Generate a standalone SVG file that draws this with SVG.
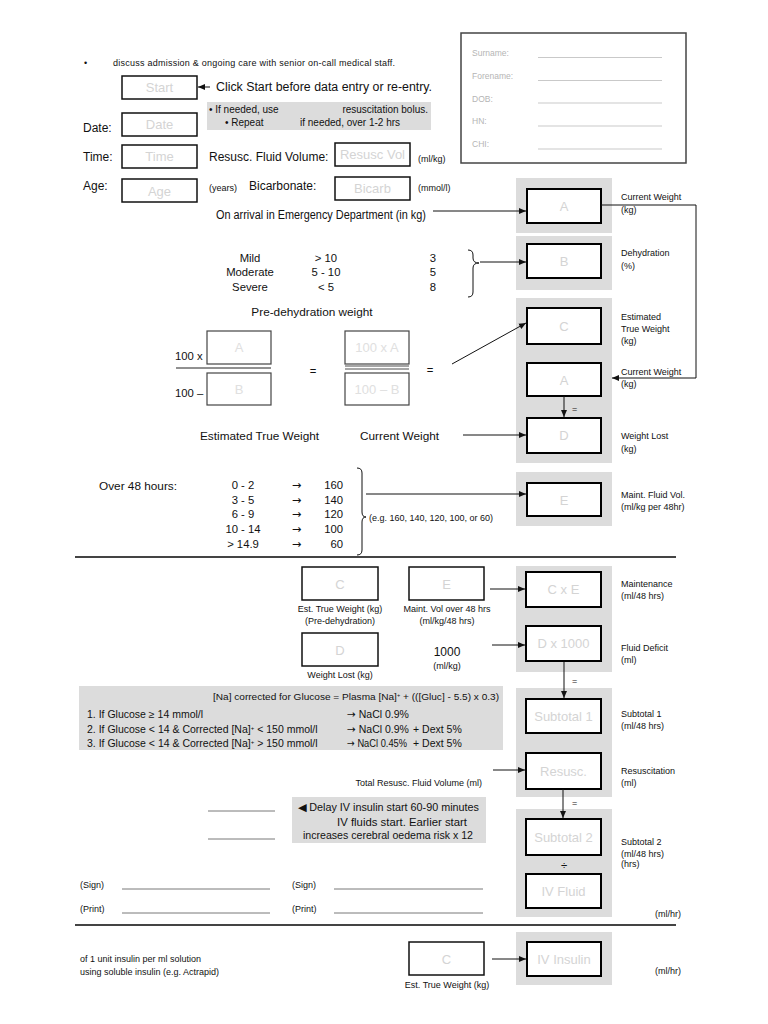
<svg xmlns="http://www.w3.org/2000/svg" width="768" height="1024" viewBox="0 0 768 1024">
<style>
text{font-family:"Liberation Sans",Arial,sans-serif;fill:#111}
.s{font-size:9px}
.m{font-size:11.3px}
.l{font-size:12px}
.n{font-size:10.5px}
.ar{font-family:"DejaVu Sans",sans-serif}
.ph{font-size:13px;fill:#d4d4d4;text-anchor:middle}
.ph2{font-size:13px;fill:#e0e0e0;text-anchor:middle}
.c{text-anchor:middle}
.e{text-anchor:end}
.bx{fill:#fff;stroke:#111;stroke-width:1.5}
.rb{fill:#fff;stroke:#000;stroke-width:2}
.fb{fill:#fff;stroke:#444;stroke-width:1.2}
.pn{fill:#dcdcdc}
.ln{stroke:#111;stroke-width:1;fill:none}
.ul{stroke:#555;stroke-width:0.8}
.gl{stroke:#bbb;stroke-width:0.8}
.lg{font-size:8.5px;fill:#b5b5b5}
.rule{stroke:#444;stroke-width:2}
</style>
<defs>
<marker id="ah" markerWidth="8" markerHeight="8" refX="7" refY="4" orient="auto" markerUnits="userSpaceOnUse">
<path d="M0,1 L7,4 L0,7 z" fill="#111"/>
</marker>
</defs>
<rect width="768" height="1024" fill="#fff"/>

<!-- header -->
<text x="84" y="66" class="s">•</text>
<text x="113" y="66" class="s" textLength="282" lengthAdjust="spacing">discuss admission &amp; ongoing care with senior on-call medical staff.</text>

<g id="patient-box">
<rect x="461" y="33" width="225" height="130" fill="#fff" stroke="#444" stroke-width="1.5"/>
<text x="472" y="56" class="lg">Surname:</text>
<text x="472" y="79" class="lg">Forename:</text>
<text x="472" y="102" class="lg">DOB:</text>
<text x="472" y="124" class="lg">HN:</text>
<text x="472" y="147" class="lg">CHI:</text>
<line x1="538" y1="57.5" x2="662" y2="57.5" class="gl"/>
<line x1="538" y1="80.5" x2="662" y2="80.5" class="gl"/>
<line x1="538" y1="103" x2="662" y2="103" class="gl"/>
<line x1="538" y1="126" x2="662" y2="126" class="gl"/>
<line x1="538" y1="149" x2="662" y2="149" class="gl"/>
</g>

<g id="start">
<rect x="122" y="76" width="75" height="23" class="bx"/>
<text x="159.5" y="92" class="ph">Start</text>
</g>
<text x="216" y="91" class="l" textLength="216" lengthAdjust="spacingAndGlyphs">Click Start before data entry or re-entry.</text>

<g id="resus-note">
<rect x="207" y="102" width="224" height="28" fill="#dcdcdc"/>
<text x="209" y="113" style="font-size:10px">• If needed, use</text>
<text x="428" y="113" class="e" style="font-size:10px">resuscitation bolus.</text>
<text x="225" y="126" style="font-size:10px">• Repeat</text>
<text x="300" y="126" style="font-size:10px">if needed, over 1-2 hrs</text>
</g>

<text x="83" y="132" class="l">Date:</text>
<g id="date"><rect x="122" y="113" width="75" height="23" class="bx"/><text x="159.5" y="129" class="ph">Date</text></g>

<text x="83" y="161" class="l">Time:</text>
<g id="time"><rect x="122" y="145" width="75" height="23" class="bx"/><text x="159.5" y="161" class="ph">Time</text></g>
<text x="209" y="161" class="l">Resusc. Fluid Volume:</text>
<g id="resusc-vol"><rect x="335" y="143" width="75" height="23" class="bx"/><text x="372.5" y="159" class="ph">Resusc Vol</text></g>
<text x="418" y="162" class="s">(ml/kg)</text>

<text x="83" y="190" class="l">Age:</text>
<g id="age"><rect x="122" y="179" width="75" height="23" class="bx"/><text x="159.5" y="196" class="ph">Age</text></g>
<text x="209" y="191" class="s">(years)</text>
<text x="249" y="190" class="l">Bicarbonate:</text>
<g id="bicarb"><rect x="335" y="177" width="75" height="23" class="bx"/><text x="372.5" y="193" class="ph">Bicarb</text></g>
<text x="418" y="191" class="s">(mmol/l)</text>

<text x="216" y="219" class="l" textLength="210" lengthAdjust="spacingAndGlyphs">On arrival in Emergency Department (in kg)</text>

<!-- dehydration table -->
<g id="dehydration-table">
<text x="250" y="262" class="c m">Mild</text>
<text x="326" y="262" class="c m">&gt; 10</text>
<text x="433" y="262" class="c m">3</text>
<text x="250" y="276" class="c m">Moderate</text>
<text x="326" y="276" class="c m">5 - 10</text>
<text x="433" y="276" class="c m">5</text>
<text x="250" y="291" class="c m">Severe</text>
<text x="326" y="291" class="c m">&lt; 5</text>
<text x="433" y="291" class="c m">8</text>
</g>

<text x="312" y="316" class="c m" style="font-size:11.8px">Pre-dehydration weight</text>

<!-- formula -->
<g id="formula">
<text x="175" y="360" class="m">100 x</text>
<rect x="207" y="331" width="64" height="33" class="fb"/>
<text x="239" y="352" class="ph2">A</text>
<line x1="176" y1="368" x2="271" y2="368" stroke="#222" stroke-width="1"/>
<rect x="207" y="373" width="64" height="32" class="fb"/>
<text x="239" y="394" class="ph2">B</text>
<text x="175" y="397" class="m">100 –</text>
<text x="313" y="375" class="c m">=</text>
<rect x="345" y="331" width="64" height="33" class="fb"/>
<text x="377" y="352" class="ph2">100 x A</text>
<line x1="345" y1="366" x2="409" y2="366" stroke="#222" stroke-width="0.8"/>
<line x1="345" y1="369" x2="409" y2="369" stroke="#222" stroke-width="0.8"/>
<rect x="345" y="373" width="64" height="32" class="fb"/>
<text x="377" y="394" class="ph2">100 – B</text>
<text x="430" y="374" class="c m">=</text>
</g>

<text x="200" y="440" class="m" style="font-size:11.8px">Estimated True Weight</text>
<text x="360" y="440" class="m" style="font-size:11.8px">Current Weight</text>

<!-- over 48 hours -->
<g id="maint-table">
<text x="99" y="490" class="m" style="font-size:11.8px">Over 48 hours:</text>
<text x="243" y="489" class="c m">0 - 2</text><text x="292" y="489" class="m ar">→</text><text x="343" y="489" class="e m">160</text>
<text x="243" y="504" class="c m">3 - 5</text><text x="292" y="504" class="m ar">→</text><text x="343" y="504" class="e m">140</text>
<text x="243" y="518" class="c m">6 - 9</text><text x="292" y="518" class="m ar">→</text><text x="343" y="518" class="e m">120</text>
<text x="243" y="533" class="c m">10 - 14</text><text x="292" y="533" class="m ar">→</text><text x="343" y="533" class="e m">100</text>
<text x="243" y="548" class="c m">&gt; 14.9</text><text x="292" y="548" class="m ar">→</text><text x="343" y="548" class="e m">60</text>
<text x="369" y="521" class="s">(e.g. 160, 140, 120, 100, or 60)</text>
</g>

<line x1="75" y1="557" x2="676" y2="557" class="rule"/>

<!-- right column panels -->
<g id="panels">
<rect x="516" y="178" width="96" height="55" class="pn"/>
<rect x="516" y="236" width="96" height="54" class="pn"/>
<rect x="516" y="298" width="96" height="165" class="pn"/>
<rect x="516" y="472" width="96" height="54" class="pn"/>
<rect x="516" y="566" width="96" height="106" class="pn"/>
<rect x="516" y="688" width="96" height="57" class="pn"/>
<rect x="516" y="743" width="96" height="54" class="pn"/>
<rect x="516" y="809" width="96" height="108" class="pn"/>
<rect x="516" y="932" width="96" height="53" class="pn"/>
</g>

<g id="node-A"><rect x="527" y="189" width="74" height="34" class="rb"/><text x="564" y="211" class="ph">A</text></g>
<text x="621" y="200" class="s">Current Weight</text><text x="621" y="213" class="s">(kg)</text>
<g id="node-B"><rect x="527" y="244" width="74" height="34" class="rb"/><text x="564" y="266" class="ph">B</text></g>
<text x="621" y="256" class="s">Dehydration</text><text x="621" y="269" class="s">(%)</text>
<g id="node-C"><rect x="527" y="308" width="74" height="36" class="rb"/><text x="564" y="331" class="ph">C</text></g>
<text x="621" y="320" class="s">Estimated</text><text x="621" y="332" class="s">True Weight</text><text x="621" y="344" class="s">(kg)</text>
<g id="node-A2"><rect x="527" y="363" width="74" height="33" class="rb"/><text x="564" y="385" class="ph">A</text></g>
<text x="621" y="375" class="s">Current Weight</text><text x="621" y="387" class="s">(kg)</text>
<g id="node-D"><rect x="527" y="418" width="74" height="35" class="rb"/><text x="564" y="440" class="ph">D</text></g>
<text x="621" y="439" class="s">Weight Lost</text><text x="621" y="452" class="s">(kg)</text>
<g id="node-E"><rect x="527" y="483" width="74" height="33" class="rb"/><text x="564" y="505" class="ph">E</text></g>
<text x="621" y="498" class="s">Maint. Fluid Vol.</text><text x="621" y="510" class="s">(ml/kg per 48hr)</text>

<!-- section 2 -->
<g id="s2-C"><rect x="302" y="567" width="76" height="33" class="bx"/><text x="340" y="589" class="ph">C</text></g>
<text x="340" y="612" class="c s">Est. True Weight (kg)</text>
<text x="340" y="624" class="c s">(Pre-dehydration)</text>
<g id="s2-E"><rect x="409" y="567" width="75" height="33" class="bx"/><text x="446.5" y="589" class="ph">E</text></g>
<text x="447" y="612" class="c s">Maint. Vol over 48 hrs</text>
<text x="447" y="624" class="c s">(ml/kg/48 hrs)</text>
<g id="s2-D"><rect x="302" y="633" width="76" height="33" class="bx"/><text x="340" y="655" class="ph">D</text></g>
<text x="340" y="678" class="c s">Weight Lost (kg)</text>
<text x="447" y="656" class="c l">1000</text>
<text x="447" y="669" class="c s">(ml/kg)</text>

<g id="node-CxE"><rect x="526" y="572" width="75" height="35" class="rb"/><text x="563.5" y="594" class="ph">C x E</text></g>
<text x="621" y="587" class="s">Maintenance</text><text x="621" y="599" class="s">(ml/48 hrs)</text>
<g id="node-Dx1000"><rect x="526" y="626" width="75" height="35" class="rb"/><text x="563.5" y="648" class="ph">D x 1000</text></g>
<text x="621" y="651" class="s">Fluid Deficit</text><text x="621" y="663" class="s">(ml)</text>

<g id="node-sub1"><rect x="526" y="699" width="75" height="34" class="rb"/><text x="563.5" y="721" class="ph">Subtotal 1</text></g>
<text x="621" y="717" class="s">Subtotal 1</text><text x="621" y="729" class="s">(ml/48 hrs)</text>

<g id="na-box">
<rect x="79" y="686" width="424" height="64" fill="#dcdcdc"/>
<text x="213" y="700" class="s" textLength="286" lengthAdjust="spacingAndGlyphs">[Na]   corrected for Glucose = Plasma [Na]<tspan baseline-shift="super" font-size="5">+</tspan> + (([Gluc] - 5.5) x 0.3)</text>
<text x="87" y="718" class="n">1.  If Glucose ≥ 14 mmol/l</text>
<text x="347" y="718" class="n"><tspan class="ar">→</tspan> NaCl 0.9%</text>
<text x="87" y="733" class="n">2.  If Glucose &lt; 14 &amp; Corrected [Na]<tspan baseline-shift="super" font-size="6">+</tspan> &lt; 150 mmol/l</text>
<text x="347" y="733" class="n"><tspan class="ar">→</tspan> NaCl 0.9%</text>
<text x="413" y="733" class="n">+ Dext 5%</text>
<text x="87" y="747" class="n">3.  If Glucose &lt; 14 &amp; Corrected [Na]<tspan baseline-shift="super" font-size="6">+</tspan> &gt; 150 mmol/l</text>
<text x="347" y="747" class="n" textLength="60" lengthAdjust="spacingAndGlyphs"><tspan class="ar">→</tspan> NaCl 0.45%</text>
<text x="413" y="747" class="n">+ Dext 5%</text>
</g>

<g id="node-resusc"><rect x="526" y="753" width="75" height="36" class="rb"/><text x="563.5" y="776" class="ph">Resusc.</text></g>
<text x="482" y="786" class="e s">Total Resusc. Fluid Volume (ml)</text>
<text x="621" y="774" class="s">Resuscitation</text><text x="621" y="786" class="s">(ml)</text>

<line x1="208" y1="811" x2="275" y2="811" class="ul"/>
<line x1="208" y1="839" x2="275" y2="839" class="ul"/>
<g id="delay-note">
<rect x="292" y="797" width="194" height="46" fill="#dcdcdc"/>
<text x="298" y="811" class="n" textLength="181" lengthAdjust="spacingAndGlyphs">◀ Delay IV insulin start 60-90 minutes</text>
<text x="337" y="826" class="n" textLength="130" lengthAdjust="spacingAndGlyphs">IV fluids start. Earlier start</text>
<text x="303" y="839" class="n" textLength="170" lengthAdjust="spacingAndGlyphs">increases cerebral oedema risk x 12</text>
</g>

<g id="node-sub2"><rect x="526" y="819" width="75" height="36" class="rb"/><text x="563.5" y="842" class="ph">Subtotal 2</text></g>
<text x="621" y="845" class="s">Subtotal 2</text><text x="621" y="857" class="s">(ml/48 hrs)</text>
<text x="621" y="867" class="s">(hrs)</text>
<text x="564" y="869" class="c m">÷</text>
<g id="node-ivfluid"><rect x="526" y="874" width="75" height="34" class="rb"/><text x="563.5" y="896" class="ph">IV Fluid</text></g>
<text x="655" y="917" class="s">(ml/hr)</text>

<g id="signatures">
<text x="80" y="888" class="s">(Sign)</text>
<line x1="122" y1="889" x2="270" y2="889" class="ul"/>
<text x="292" y="888" class="s">(Sign)</text>
<line x1="334" y1="889" x2="483" y2="889" class="ul"/>
<text x="80" y="912" class="s">(Print)</text>
<line x1="122" y1="913" x2="270" y2="913" class="ul"/>
<text x="292" y="912" class="s">(Print)</text>
<line x1="334" y1="913" x2="483" y2="913" class="ul"/>
</g>

<line x1="75" y1="925" x2="676" y2="925" class="rule"/>

<text x="80" y="962" class="s">of 1 unit insulin per ml solution</text>
<text x="80" y="975" class="s">using soluble insulin (e.g. Actrapid)</text>
<g id="s3-C"><rect x="409" y="942" width="75" height="33" class="bx"/><text x="446.5" y="964" class="ph">C</text></g>
<text x="447" y="988" class="c s">Est. True Weight (kg)</text>
<g id="node-ivinsulin"><rect x="527" y="942" width="74" height="34" class="rb"/><text x="564" y="964" class="ph">IV Insulin</text></g>
<text x="655" y="974" class="s">(ml/hr)</text>

<g id="connectors">
<line x1="210" y1="87" x2="198" y2="87" class="ln" marker-end="url(#ah)"/>
<line x1="433" y1="211" x2="526" y2="211" class="ln" marker-end="url(#ah)"/>
<path d="M468,250 Q473,250 473,255 L473,258 Q473,263 479,263 Q473,263 473,268 L473,292 Q473,297 468,297" class="ln"/>
<line x1="480" y1="262" x2="526" y2="262" class="ln" marker-end="url(#ah)"/>
<polyline points="601,205 696,205 696,378 612,378" class="ln" marker-end="url(#ah)"/>
<line x1="452" y1="364" x2="526" y2="323" class="ln" marker-end="url(#ah)"/>
<line x1="564" y1="396" x2="564" y2="417" class="ln" marker-end="url(#ah)"/>
<text x="572" y="412" class="s">=</text>
<line x1="463" y1="435" x2="526" y2="435" class="ln" marker-end="url(#ah)"/>
<path d="M357,468 Q362,468 362,473 L362,512 Q362,517 366,517 Q362,517 362,522 L362,550 Q362,555 357,555" class="ln"/>
<line x1="366" y1="494" x2="526" y2="494" class="ln" marker-end="url(#ah)"/>
<line x1="490" y1="589" x2="525" y2="589" class="ln" marker-end="url(#ah)"/>
<line x1="492" y1="645" x2="525" y2="645" class="ln" marker-end="url(#ah)"/>
<line x1="564" y1="662" x2="564" y2="698" class="ln" marker-end="url(#ah)"/>
<text x="572" y="684" class="s">=</text>
<line x1="493" y1="770" x2="525" y2="770" class="ln" marker-end="url(#ah)"/>
<line x1="563" y1="789" x2="563" y2="818" class="ln" marker-end="url(#ah)"/>
<text x="572" y="806" class="s">=</text>
<line x1="492" y1="959" x2="526" y2="959" class="ln" marker-end="url(#ah)"/>
</g>
</svg>
